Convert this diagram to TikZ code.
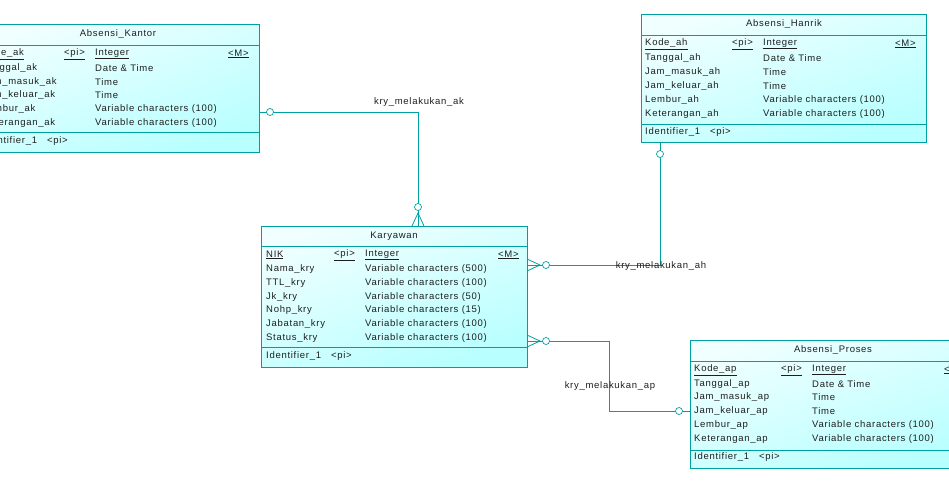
\documentclass[tikz,border=0pt]{standalone}
\usepackage{fontspec}
\setmainfont{Liberation Sans}
\newfontfamily\erfont{Liberation Sans}[LetterSpace=7.5]
\begin{document}
\definecolor{edge}{RGB}{0,160,160}
\definecolor{txt}{RGB}{30,30,30}
\begin{tikzpicture}[x=1pt,y=-1pt,
  tbl/.style={draw=edge,line width=0.8pt,top color=cyan!6,bottom color=cyan!28,shading angle=20},
  t/.style={anchor=west,inner sep=0pt,text=txt,font=\erfont\fontsize{9.5}{10}\selectfont},
  ttl/.style={anchor=center,inner sep=0pt,text=txt,font=\erfont\fontsize{9.5}{10}\selectfont},
  ln/.style={draw=edge,line width=0.8pt},
  circ/.style={draw=edge,fill=white,line width=0.7pt,circle,inner sep=0pt,minimum size=7pt},
  lbl/.style={inner sep=1pt,text=txt,font=\erfont\fontsize{9.5}{10}\selectfont}]
\useasboundingbox (0,0) rectangle (949,498);
\clip (0,0) rectangle (949,498);
% Absensi_Kantor
\draw[tbl] (-23,24) rectangle (259,152);
\draw[ln] (-23,45) -- (259,45); \draw[ln] (-23,132) -- (259,132);
\node[ttl] (tk) at (118,34) {Absensi\_Kantor};
\node[t] at (-18,54) {\underline{Kode\_ak}};
\node[t] at (64,54) {\underline{<pi>}};
\node[t] at (95,54) {\underline{Integer}};
\node[t] at (228,54) {\underline{<M>}};
\node[t] at (-18,68) {Tanggal\_ak}; \node[t] at (95,68) {Date \& Time};
\node[t] at (-18,82) {Jam\_masuk\_ak}; \node[t] at (95,82) {Time};
\node[t] at (-18,95) {Jam\_keluar\_ak}; \node[t] at (95,95) {Time};
\node[t] at (-18,109) {Lembur\_ak}; \node[t] at (95,109) {Variable characters (100)};
\node[t] at (-18,123) {Keterangan\_ak}; \node[t] at (95,123) {Variable characters (100)};
\node[t] at (-18,141) {Identifier\_1\ \ \ <pi>};
% Absensi_Hanrik
\draw[tbl] (641,14) rectangle (926,142);
\draw[ln] (641,35) -- (926,35); \draw[ln] (641,124) -- (926,124);
\node[ttl] at (784,24) {Absensi\_Hanrik};
\node[t] at (645,44) {\underline{Kode\_ah}};
\node[t] at (732,44) {\underline{<pi>}};
\node[t] at (763,44) {\underline{Integer}};
\node[t] at (895,44) {\underline{<M>}};
\node[t] at (645,58) {Tanggal\_ah}; \node[t] at (763,58) {Date \& Time};
\node[t] at (645,72) {Jam\_masuk\_ah}; \node[t] at (763,72) {Time};
\node[t] at (645,86) {Jam\_keluar\_ah}; \node[t] at (763,86) {Time};
\node[t] at (645,100) {Lembur\_ah}; \node[t] at (763,100) {Variable characters (100)};
\node[t] at (645,114) {Keterangan\_ah}; \node[t] at (763,114) {Variable characters (100)};
\node[t] at (645,132) {Identifier\_1\ \ \ <pi>};
% Karyawan
\draw[tbl] (261,226) rectangle (527,367);
\draw[ln] (261,246) -- (527,246); \draw[ln] (261,347) -- (527,347);
\node[ttl] at (394,236) {Karyawan};
\node[t] at (266,255) {\underline{NIK}};
\node[t] at (334,255) {\underline{<pi>}};
\node[t] at (365,255) {\underline{Integer}};
\node[t] at (498,255) {\underline{<M>}};
\node[t] at (266,269) {Nama\_kry}; \node[t] at (365,269) {Variable characters (500)};
\node[t] at (266,283) {TTL\_kry}; \node[t] at (365,283) {Variable characters (100)};
\node[t] at (266,297) {Jk\_kry}; \node[t] at (365,297) {Variable characters (50)};
\node[t] at (266,310) {Nohp\_kry}; \node[t] at (365,310) {Variable characters (15)};
\node[t] at (266,324) {Jabatan\_kry}; \node[t] at (365,324) {Variable characters (100)};
\node[t] at (266,338) {Status\_kry}; \node[t] at (365,338) {Variable characters (100)};
\node[t] at (266,356) {Identifier\_1\ \ \ <pi>};
% Absensi_Proses
\draw[tbl] (690,340) rectangle (976,468);
\draw[ln] (690,361) -- (976,361); \draw[ln] (690,450) -- (976,450);
\node[ttl] at (833,350) {Absensi\_Proses};
\node[t] at (694,370) {\underline{Kode\_ap}};
\node[t] at (781,370) {\underline{<pi>}};
\node[t] at (812,370) {\underline{Integer}};
\node[t] at (944,370) {\underline{<M>}};
\node[t] at (694,384) {Tanggal\_ap}; \node[t] at (812,384) {Date \& Time};
\node[t] at (694,397) {Jam\_masuk\_ap}; \node[t] at (812,397) {Time};
\node[t] at (694,411) {Jam\_keluar\_ap}; \node[t] at (812,411) {Time};
\node[t] at (694,425) {Lembur\_ap}; \node[t] at (812,425) {Variable characters (100)};
\node[t] at (694,439) {Keterangan\_ap}; \node[t] at (812,439) {Variable characters (100)};
\node[t] at (694,457) {Identifier\_1\ \ \ <pi>};
% connectors
\coordinate (akA) at (259,112); \coordinate (akB) at (418,112); \coordinate (akC) at (418,226);
\draw[ln] (akA) -- (akB) -- (akC);
\draw[ln] (412,226) -- (418,213) -- (424,226);
\node[circ] at (270,112) {}; \node[circ] at (418,207) {};
\node[lbl] at (419,102) {kry\_melakukan\_ak};
\coordinate (ahA) at (660,142); \coordinate (ahB) at (660,265); \coordinate (ahC) at (527,265);
\draw[ln] (ahA) -- (ahB) -- (ahC);
\draw[ln] (527,259) -- (540,265) -- (527,271);
\node[circ] at (660,154) {}; \node[circ] at (546,265) {};
\node[lbl] at (661,266) {kry\_melakukan\_ah};
\coordinate (apA) at (527,341); \coordinate (apB) at (609,341); \coordinate (apC) at (609,411); \coordinate (apD) at (690,411);
\draw[ln] (apA) -- (apB) -- (apC) -- (apD);
\draw[ln] (527,335) -- (540,341) -- (527,347);
\node[circ] at (546,341) {}; \node[circ] at (679,411) {};
\node[lbl] at (610,386) {kry\_melakukan\_ap};
\end{tikzpicture}
\end{document}
